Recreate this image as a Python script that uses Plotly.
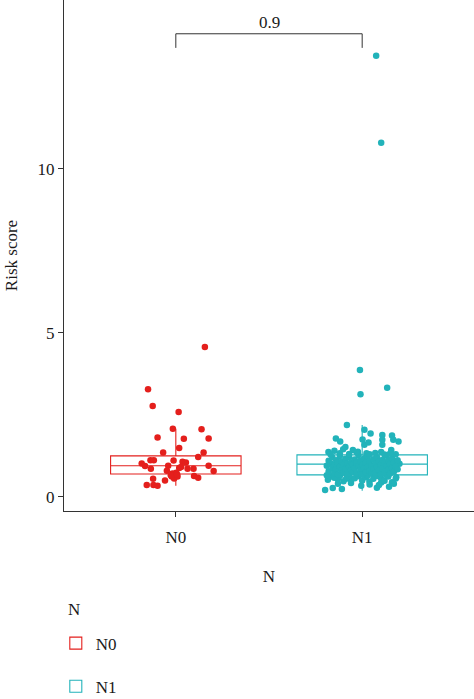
import plotly.graph_objects as go

# group labels and colours
groups = ["N0", "N1"]
colors = {"N0": "#E41F1C", "N1": "#22B3BA"}

# box statistics
q1 = {"N0": 0.70, "N1": 0.67}
median = {"N0": 0.95, "N1": 1.00}
q3 = {"N0": 1.25, "N1": 1.28}
lowerfence = {"N0": 0.34, "N1": 0.19}
upperfence = {"N0": 2.08, "N1": 2.19}

# jittered points: horizontal offset from the group centre, risk score
n0_dx = [0.156, -0.149, -0.124, 0.015, -0.016, 0.138, -0.098, 0.043, 0.176, 0.018,
         -0.068, 0.149, 0.120, -0.136, -0.118, -0.012, 0.036, 0.054, -0.183, -0.165,
         -0.134, -0.041, 0.018, 0.028, 0.095, 0.176, 0.203, -0.048, -0.018, 0.002,
         0.098, 0.120, -0.122, -0.058, -0.022, -0.009, 0.009, -0.156, -0.120, -0.098,
         -0.027, 0.007, 0.063]
n0_score = [4.57, 3.28, 2.77, 2.59, 2.08, 2.06, 1.81, 1.77, 1.78, 1.49,
            1.35, 1.35, 1.22, 1.12, 1.12, 1.11, 1.07, 1.05, 1.02, 0.94,
            0.86, 0.95, 0.88, 0.91, 0.86, 0.95, 0.79, 0.80, 0.71, 0.74,
            0.64, 0.58, 0.55, 0.50, 0.62, 0.56, 0.62, 0.36, 0.36, 0.34,
            0.66, 0.68, 0.86]

n1_dx = [0.075, 0.102, -0.012, 0.134, -0.009, -0.082, 0.012, 0.045, 0.108, 0.160,
         -0.141, -0.118, 0.002, 0.108, 0.167, 0.195, 0.012, 0.108, -0.102, -0.050,
         -0.023, -0.149, -0.181, 0.156, 0.102, 0.023, 0.200, -0.184, -0.199, -0.158,
         -0.109, -0.005, 0.079, 0.144, -0.059, 0.039, 0.102, 0.183, -0.131, -0.086,
         0.034,
         -0.17, -0.15, -0.12, -0.10, -0.08, -0.06, -0.04, -0.02, 0.00, 0.02,
         0.04, 0.06, 0.08, 0.10, 0.12, 0.14, 0.16, 0.18, -0.19, -0.13,
         0.03, 0.09, -0.07, 0.13, 0.17,
         -0.19, -0.18, -0.18, -0.17, -0.16, -0.16, -0.15, -0.15, -0.14, -0.14,
         -0.13, -0.13, -0.12, -0.12, -0.11, -0.11, -0.10, -0.10, -0.09, -0.09,
         -0.08, -0.08, -0.07, -0.07, -0.06, -0.06, -0.05, -0.05, -0.04, -0.04,
         -0.03, -0.03, -0.02, -0.02, -0.01, -0.01, 0.00, 0.00, 0.01, 0.01,
         0.02, 0.02, 0.03, 0.03, 0.04, 0.04, 0.05, 0.05, 0.06, 0.06,
         0.07, 0.07, 0.08, 0.08, 0.09, 0.09, 0.10, 0.10, 0.11, 0.11,
         0.12, 0.12, 0.13, 0.13, 0.14, 0.14, 0.15, 0.15, 0.16, 0.16,
         0.17, 0.17, 0.18, 0.19, 0.19,
         -0.17, -0.12, -0.07, -0.03, 0.04, 0.07, 0.12, 0.15, 0.18, -0.09]
n1_score = [13.45, 10.80, 3.87, 3.33, 3.13, 2.19, 2.05, 1.93, 1.89, 1.87,
            1.78, 1.69, 1.75, 1.74, 1.74, 1.69, 1.59, 1.59, 1.45, 1.43,
            1.38, 1.41, 1.37, 1.43, 1.37, 1.33, 1.01, 0.52, 0.21, 0.27,
            0.24, 0.34, 0.28, 0.31, 0.52, 0.47, 0.44, 0.60, 0.54, 0.55,
            1.66,
            0.62, 0.58, 0.64, 0.48, 0.61, 0.42, 0.57, 0.63, 0.50, 0.60,
            0.38, 0.55, 0.64, 0.58, 0.49, 0.62, 0.45, 0.56, 0.66, 0.40,
            0.66, 0.36, 0.65, 0.66, 0.40,
            0.95, 1.10, 0.78, 1.02, 0.88, 1.20, 0.72, 0.98, 1.12, 0.84,
            1.05, 0.69, 0.92, 1.25, 0.80, 1.08, 0.97, 0.74, 1.16, 0.86,
            1.02, 0.70, 0.93, 1.22, 0.81, 1.06, 0.76, 0.99, 1.14, 0.88,
            0.72, 1.03, 0.94, 1.27, 0.82, 1.10, 0.68, 0.97, 1.18, 0.87,
            1.04, 0.75, 0.91, 1.24, 0.79, 1.09, 0.96, 0.71, 1.15, 0.85,
            1.01, 0.73, 0.92, 1.21, 0.80, 1.07, 0.69, 0.98, 1.13, 0.86,
            1.03, 0.76, 0.94, 1.26, 0.83, 1.11, 0.71, 1.00, 1.17, 0.89,
            1.05, 0.77, 0.93, 0.84, 1.12,
            1.30, 1.33, 1.31, 1.36, 1.30, 1.34, 1.29, 1.32, 1.30, 1.52]

points = {"N0": (n0_dx, n0_score), "N1": (n1_dx, n1_score)}

p_label = "0.9"
bracket_y = 14.12
bracket_drop = 0.43

font_family = "Liberation Serif, Times New Roman, serif"
axis_color = "#333333"
text_color = "#1a1a1a"
fs = 17

fig = go.Figure()

for i, g in enumerate(groups):
    fig.add_trace(go.Box(
        x=[i], q1=[q1[g]], median=[median[g]], q3=[q3[g]],
        lowerfence=[lowerfence[g]], upperfence=[upperfence[g]],
        width=0.7, whiskerwidth=0, boxpoints=False, name=g, legendgroup=g,
        line=dict(color=colors[g], width=1.1), fillcolor="rgba(255,255,255,0)",
    ))

for i, g in enumerate(groups):
    dx, score = points[g]
    fig.add_trace(go.Scatter(
        x=[i + d for d in dx], y=score, mode="markers",
        marker=dict(color=colors[g], size=6.5, line=dict(width=0)),
        showlegend=False, hoverinfo="y",
    ))

# significance bracket
fig.add_shape(type="line", xref="x", yref="y", x0=0, x1=1, y0=bracket_y, y1=bracket_y,
              line=dict(color=axis_color, width=1))
for i in range(2):
    fig.add_shape(type="line", xref="x", yref="y", x0=i, x1=i,
                  y0=bracket_y, y1=bracket_y - bracket_drop,
                  line=dict(color=axis_color, width=1))
fig.add_annotation(x=0.5, y=bracket_y, xref="x", yref="y", text=p_label,
                   showarrow=False, yanchor="bottom", yshift=0,
                   font=dict(family=font_family, size=fs, color=text_color))

# legend title drawn as text so the spacing can follow the reference
fig.add_annotation(x=0.005, y=-0.192, xref="paper", yref="paper", text="N",
                   showarrow=False, xanchor="left", yanchor="middle",
                   font=dict(family=font_family, size=fs, color=text_color))

fig.update_layout(
    width=474, height=699,
    margin=dict(l=64, r=0, t=0, b=188, pad=0),
    paper_bgcolor="white", plot_bgcolor="white",
    font=dict(family=font_family, size=fs, color=text_color),
    showlegend=True,
    legend=dict(
        orientation="v", x=-0.02, xanchor="left",
        yref="container", y=0.105, yanchor="top",
        tracegroupgap=18, traceorder="grouped",
        font=dict(family=font_family, size=fs, color=text_color),
    ),
    xaxis=dict(
        range=[-0.6, 1.6], tickvals=[0, 1], ticktext=groups,
        showgrid=False, zeroline=False, showline=True, linecolor=axis_color, linewidth=1,
        ticks="outside", ticklen=5, tickcolor=axis_color, ticklabelstandoff=6,
        title=dict(text="N", standoff=23, font=dict(family=font_family, size=fs)),
        tickfont=dict(family=font_family, size=fs, color=text_color),
    ),
    yaxis=dict(
        range=[-0.43, 15.15], tickvals=[0, 5, 10],
        showgrid=False, zeroline=False, showline=True, linecolor=axis_color, linewidth=1,
        ticks="outside", ticklen=5, tickcolor=axis_color,
        title=dict(text="Risk score", standoff=15, font=dict(family=font_family, size=fs)),
        tickfont=dict(family=font_family, size=fs, color=text_color),
    ),
)

fig.write_html("out.html", config={"displayModeBar": False},
               post_script="document.body.style.margin='0';document.body.style.overflow='hidden';")
